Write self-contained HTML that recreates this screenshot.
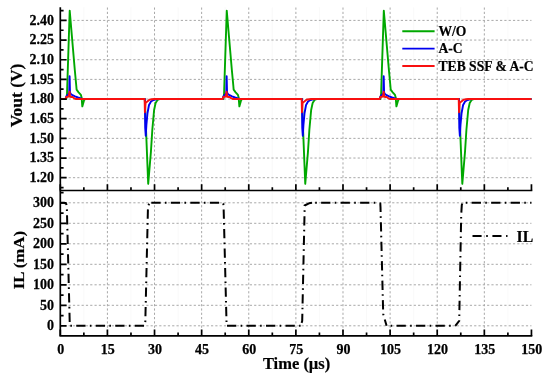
<!DOCTYPE html>
<html><head><meta charset="utf-8"><style>
html,body{margin:0;padding:0;background:#fff;width:550px;height:379px;overflow:hidden}
svg{display:block}
</style></head><body>
<svg width="550" height="379" viewBox="0 0 550 379">
<rect width="550" height="379" fill="#fff"/>
<line x1="83.86" y1="7.29" x2="83.86" y2="190.81" stroke="#f7f7f7" stroke-width="0.8"/>
<line x1="83.86" y1="192.55" x2="83.86" y2="336.05" stroke="#f7f7f7" stroke-width="0.8"/>
<line x1="130.97" y1="7.29" x2="130.97" y2="190.81" stroke="#f7f7f7" stroke-width="0.8"/>
<line x1="130.97" y1="192.55" x2="130.97" y2="336.05" stroke="#f7f7f7" stroke-width="0.8"/>
<line x1="178.09" y1="7.29" x2="178.09" y2="190.81" stroke="#f7f7f7" stroke-width="0.8"/>
<line x1="178.09" y1="192.55" x2="178.09" y2="336.05" stroke="#f7f7f7" stroke-width="0.8"/>
<line x1="225.20" y1="7.29" x2="225.20" y2="190.81" stroke="#f7f7f7" stroke-width="0.8"/>
<line x1="225.20" y1="192.55" x2="225.20" y2="336.05" stroke="#f7f7f7" stroke-width="0.8"/>
<line x1="272.32" y1="7.29" x2="272.32" y2="190.81" stroke="#f7f7f7" stroke-width="0.8"/>
<line x1="272.32" y1="192.55" x2="272.32" y2="336.05" stroke="#f7f7f7" stroke-width="0.8"/>
<line x1="319.43" y1="7.29" x2="319.43" y2="190.81" stroke="#f7f7f7" stroke-width="0.8"/>
<line x1="319.43" y1="192.55" x2="319.43" y2="336.05" stroke="#f7f7f7" stroke-width="0.8"/>
<line x1="366.55" y1="7.29" x2="366.55" y2="190.81" stroke="#f7f7f7" stroke-width="0.8"/>
<line x1="366.55" y1="192.55" x2="366.55" y2="336.05" stroke="#f7f7f7" stroke-width="0.8"/>
<line x1="413.66" y1="7.29" x2="413.66" y2="190.81" stroke="#f7f7f7" stroke-width="0.8"/>
<line x1="413.66" y1="192.55" x2="413.66" y2="336.05" stroke="#f7f7f7" stroke-width="0.8"/>
<line x1="460.78" y1="7.29" x2="460.78" y2="190.81" stroke="#f7f7f7" stroke-width="0.8"/>
<line x1="460.78" y1="192.55" x2="460.78" y2="336.05" stroke="#f7f7f7" stroke-width="0.8"/>
<line x1="507.89" y1="7.29" x2="507.89" y2="190.81" stroke="#f7f7f7" stroke-width="0.8"/>
<line x1="507.89" y1="192.55" x2="507.89" y2="336.05" stroke="#f7f7f7" stroke-width="0.8"/>
<line x1="107.41" y1="190.81" x2="107.41" y2="7.29" stroke="#a8a8a8" stroke-width="1" stroke-dasharray="2.2 2.1" stroke-dashoffset="3.8"/>
<line x1="107.41" y1="336.05" x2="107.41" y2="192.55" stroke="#a8a8a8" stroke-width="1" stroke-dasharray="2.2 2.1" stroke-dashoffset="0.35"/>
<line x1="154.53" y1="190.81" x2="154.53" y2="7.29" stroke="#a8a8a8" stroke-width="1" stroke-dasharray="2.2 2.1" stroke-dashoffset="3.8"/>
<line x1="154.53" y1="336.05" x2="154.53" y2="192.55" stroke="#a8a8a8" stroke-width="1" stroke-dasharray="2.2 2.1" stroke-dashoffset="0.35"/>
<line x1="201.64" y1="190.81" x2="201.64" y2="7.29" stroke="#a8a8a8" stroke-width="1" stroke-dasharray="2.2 2.1" stroke-dashoffset="3.8"/>
<line x1="201.64" y1="336.05" x2="201.64" y2="192.55" stroke="#a8a8a8" stroke-width="1" stroke-dasharray="2.2 2.1" stroke-dashoffset="0.35"/>
<line x1="248.76" y1="190.81" x2="248.76" y2="7.29" stroke="#a8a8a8" stroke-width="1" stroke-dasharray="2.2 2.1" stroke-dashoffset="3.8"/>
<line x1="248.76" y1="336.05" x2="248.76" y2="192.55" stroke="#a8a8a8" stroke-width="1" stroke-dasharray="2.2 2.1" stroke-dashoffset="0.35"/>
<line x1="295.88" y1="190.81" x2="295.88" y2="7.29" stroke="#a8a8a8" stroke-width="1" stroke-dasharray="2.2 2.1" stroke-dashoffset="3.8"/>
<line x1="295.88" y1="336.05" x2="295.88" y2="192.55" stroke="#a8a8a8" stroke-width="1" stroke-dasharray="2.2 2.1" stroke-dashoffset="0.35"/>
<line x1="342.99" y1="190.81" x2="342.99" y2="7.29" stroke="#a8a8a8" stroke-width="1" stroke-dasharray="2.2 2.1" stroke-dashoffset="3.8"/>
<line x1="342.99" y1="336.05" x2="342.99" y2="192.55" stroke="#a8a8a8" stroke-width="1" stroke-dasharray="2.2 2.1" stroke-dashoffset="0.35"/>
<line x1="390.11" y1="190.81" x2="390.11" y2="7.29" stroke="#a8a8a8" stroke-width="1" stroke-dasharray="2.2 2.1" stroke-dashoffset="3.8"/>
<line x1="390.11" y1="336.05" x2="390.11" y2="192.55" stroke="#a8a8a8" stroke-width="1" stroke-dasharray="2.2 2.1" stroke-dashoffset="0.35"/>
<line x1="437.22" y1="190.81" x2="437.22" y2="7.29" stroke="#a8a8a8" stroke-width="1" stroke-dasharray="2.2 2.1" stroke-dashoffset="3.8"/>
<line x1="437.22" y1="336.05" x2="437.22" y2="192.55" stroke="#a8a8a8" stroke-width="1" stroke-dasharray="2.2 2.1" stroke-dashoffset="0.35"/>
<line x1="484.34" y1="190.81" x2="484.34" y2="7.29" stroke="#a8a8a8" stroke-width="1" stroke-dasharray="2.2 2.1" stroke-dashoffset="3.8"/>
<line x1="484.34" y1="336.05" x2="484.34" y2="192.55" stroke="#a8a8a8" stroke-width="1" stroke-dasharray="2.2 2.1" stroke-dashoffset="0.35"/>
<line x1="60.30" y1="177.70" x2="531.45" y2="177.70" stroke="#a8a8a8" stroke-width="1" stroke-dasharray="2.2 2.114" stroke-dashoffset="0.3"/>
<line x1="60.30" y1="158.04" x2="531.45" y2="158.04" stroke="#a8a8a8" stroke-width="1" stroke-dasharray="2.2 2.114" stroke-dashoffset="0.3"/>
<line x1="60.30" y1="138.37" x2="531.45" y2="138.37" stroke="#a8a8a8" stroke-width="1" stroke-dasharray="2.2 2.114" stroke-dashoffset="0.3"/>
<line x1="60.30" y1="118.71" x2="531.45" y2="118.71" stroke="#a8a8a8" stroke-width="1" stroke-dasharray="2.2 2.114" stroke-dashoffset="0.3"/>
<line x1="60.30" y1="99.05" x2="531.45" y2="99.05" stroke="#a8a8a8" stroke-width="1" stroke-dasharray="2.2 2.114" stroke-dashoffset="0.3"/>
<line x1="60.30" y1="79.39" x2="531.45" y2="79.39" stroke="#a8a8a8" stroke-width="1" stroke-dasharray="2.2 2.114" stroke-dashoffset="0.3"/>
<line x1="60.30" y1="59.73" x2="531.45" y2="59.73" stroke="#a8a8a8" stroke-width="1" stroke-dasharray="2.2 2.114" stroke-dashoffset="0.3"/>
<line x1="60.30" y1="40.06" x2="531.45" y2="40.06" stroke="#a8a8a8" stroke-width="1" stroke-dasharray="2.2 2.114" stroke-dashoffset="0.3"/>
<line x1="60.30" y1="20.40" x2="531.45" y2="20.40" stroke="#a8a8a8" stroke-width="1" stroke-dasharray="2.2 2.114" stroke-dashoffset="0.3"/>
<line x1="60.30" y1="325.80" x2="531.45" y2="325.80" stroke="#a8a8a8" stroke-width="1" stroke-dasharray="2.2 2.114" stroke-dashoffset="0.3"/>
<line x1="60.30" y1="305.30" x2="531.45" y2="305.30" stroke="#a8a8a8" stroke-width="1" stroke-dasharray="2.2 2.114" stroke-dashoffset="0.3"/>
<line x1="60.30" y1="284.80" x2="531.45" y2="284.80" stroke="#a8a8a8" stroke-width="1" stroke-dasharray="2.2 2.114" stroke-dashoffset="0.3"/>
<line x1="60.30" y1="264.30" x2="531.45" y2="264.30" stroke="#a8a8a8" stroke-width="1" stroke-dasharray="2.2 2.114" stroke-dashoffset="0.3"/>
<line x1="60.30" y1="243.80" x2="531.45" y2="243.80" stroke="#a8a8a8" stroke-width="1" stroke-dasharray="2.2 2.114" stroke-dashoffset="0.3"/>
<line x1="60.30" y1="223.30" x2="531.45" y2="223.30" stroke="#a8a8a8" stroke-width="1" stroke-dasharray="2.2 2.114" stroke-dashoffset="0.3"/>
<line x1="60.30" y1="202.80" x2="531.45" y2="202.80" stroke="#a8a8a8" stroke-width="1" stroke-dasharray="2.2 2.114" stroke-dashoffset="0.3"/>
<polyline points="60.30,99.05 66.30,99.05 67.00,94.00 69.70,10.70 74.80,70.00 76.30,86.00 76.60,89.70 78.60,92.30 80.90,94.90 81.60,97.50 82.30,106.40 84.20,99.70 85.50,99.05 144.80,99.05 148.20,183.80 150.90,152.00 152.30,130.00 154.10,110.00 155.60,103.00 157.50,100.00 159.50,99.05 223.35,99.05 224.05,94.00 226.75,10.70 231.85,70.00 233.35,86.00 233.65,89.70 235.65,92.30 237.95,94.90 238.65,97.50 239.35,106.40 241.25,99.70 242.55,99.05 301.85,99.05 305.25,183.80 307.95,152.00 309.35,130.00 311.15,110.00 312.65,103.00 314.55,100.00 316.55,99.05 380.40,99.05 381.10,94.00 383.80,10.70 388.90,70.00 390.40,86.00 390.70,89.70 392.70,92.30 395.00,94.90 395.70,97.50 396.40,106.40 398.30,99.70 399.60,99.05 458.90,99.05 462.30,183.80 465.00,152.00 466.40,130.00 468.20,110.00 469.70,103.00 471.60,100.00 473.60,99.05 531.45,99.05" fill="none" stroke="#00a800" stroke-width="1.9" stroke-linejoin="round"/>
<polyline points="60.30,99.05 65.50,99.05 66.30,96.50 67.50,95.00 69.20,93.50 69.60,76.20 70.00,92.50 70.80,94.00 72.50,95.20 75.00,96.40 78.00,97.50 81.00,98.40 83.50,99.05 144.90,99.05 145.20,128.00 145.75,135.80 146.40,125.00 147.50,113.00 149.00,105.00 151.00,101.50 153.50,100.00 156.00,99.30 158.00,99.05 222.55,99.05 223.35,96.50 224.55,95.00 226.25,93.50 226.65,76.20 227.05,92.50 227.85,94.00 229.55,95.20 232.05,96.40 235.05,97.50 238.05,98.40 240.55,99.05 301.95,99.05 302.25,128.00 302.80,135.80 303.45,125.00 304.55,113.00 306.05,105.00 308.05,101.50 310.55,100.00 313.05,99.30 315.05,99.05 379.60,99.05 380.40,96.50 381.60,95.00 383.30,93.50 383.70,76.20 384.10,92.50 384.90,94.00 386.60,95.20 389.10,96.40 392.10,97.50 395.10,98.40 397.60,99.05 459.00,99.05 459.30,128.00 459.85,135.80 460.50,125.00 461.60,113.00 463.10,105.00 465.10,101.50 467.60,100.00 470.10,99.30 472.10,99.05 531.45,99.05" fill="none" stroke="#0000f0" stroke-width="1.9" stroke-linejoin="round"/>
<polyline points="60.30,99.05 65.40,99.05 66.30,97.00 68.80,96.50 69.60,91.60 70.10,96.80 71.50,97.00 72.60,97.00 74.40,98.40 76.00,99.05 144.60,99.05 144.90,112.20 145.60,103.00 146.70,101.90 149.40,99.70 152.00,99.20 154.00,99.05 222.45,99.05 223.35,97.00 225.85,96.50 226.65,91.60 227.15,96.80 228.55,97.00 229.65,97.00 231.45,98.40 233.05,99.05 301.65,99.05 301.95,112.20 302.65,103.00 303.75,101.90 306.45,99.70 309.05,99.20 311.05,99.05 379.50,99.05 380.40,97.00 382.90,96.50 383.70,91.60 384.20,96.80 385.60,97.00 386.70,97.00 388.50,98.40 390.10,99.05 458.70,99.05 459.00,112.20 459.70,103.00 460.80,101.90 463.50,99.70 466.10,99.20 468.10,99.05 531.45,99.05" fill="none" stroke="#f81010" stroke-width="1.9" stroke-linejoin="round"/>
<path d="M60.50,202.80 L64.50,202.80 L66.30,204.00 L66.80,206.00 L69.80,325.80 L144.60,325.80 L145.30,322.00 L147.90,210.00 L148.30,205.50 L149.30,203.50 L151.00,202.80" fill="none" stroke="#000" stroke-width="2" stroke-dasharray="9.3 4.3 1.6 4.3" stroke-dashoffset="2.00" stroke-linejoin="round"/>
<path d="M151.00,202.80 L221.50,202.80 L223.30,203.60 L223.60,207.00 L226.60,325.80" fill="none" stroke="#000" stroke-width="2" stroke-dasharray="9.3 4.3 1.6 4.3" stroke-dashoffset="19.19" stroke-linejoin="round"/>
<path d="M226.60,325.80 L300.60,325.80" fill="none" stroke="#000" stroke-width="2" stroke-dasharray="9.3 4.3 1.6 4.3" stroke-dashoffset="19.10" stroke-linejoin="round"/>
<path d="M300.60,325.80 L302.20,321.00 L304.50,215.00 L304.60,205.50 L309.00,203.30 L312.00,202.80" fill="none" stroke="#000" stroke-width="2" stroke-dasharray="9.3 4.3 1.6 4.3" stroke-dashoffset="16.39" stroke-linejoin="round"/>
<path d="M312.00,202.80 L378.50,202.80 L380.30,203.50 L380.50,207.00 L383.20,314.00 L386.60,325.80" fill="none" stroke="#000" stroke-width="2" stroke-dasharray="9.3 4.3 1.6 4.3" stroke-dashoffset="10.40" stroke-linejoin="round"/>
<path d="M386.60,325.80 L455.30,325.80" fill="none" stroke="#000" stroke-width="2" stroke-dasharray="9.3 4.3 1.6 4.3" stroke-dashoffset="9.58" stroke-linejoin="round"/>
<path d="M455.30,325.80 L459.20,320.90 L461.20,215.00 L461.80,205.00 L462.50,202.80" fill="none" stroke="#000" stroke-width="2" stroke-dasharray="9.3 4.3 1.6 4.3" stroke-dashoffset="2.46" stroke-linejoin="round"/>
<path d="M462.50,202.80 L531.45,202.80" fill="none" stroke="#000" stroke-width="2" stroke-dasharray="9.3 4.3 1.6 4.3" stroke-dashoffset="10.35" stroke-linejoin="round"/>
<path d="M60.30,7.29 V190.81 M59.45,190.51 H532.30" fill="none" stroke="#000" stroke-width="1.7"/>
<path d="M60.30,190.81 V336.05 M59.45,335.90 H532.30" fill="none" stroke="#000" stroke-width="1.7"/>
<path d="M60.30,190.51 v-6.3 M60.30,335.90 v-6.3 M107.41,190.51 v-6.3 M107.41,335.90 v-6.3 M154.53,190.51 v-6.3 M154.53,335.90 v-6.3 M201.64,190.51 v-6.3 M201.64,335.90 v-6.3 M248.76,190.51 v-6.3 M248.76,335.90 v-6.3 M295.88,190.51 v-6.3 M295.88,335.90 v-6.3 M342.99,190.51 v-6.3 M342.99,335.90 v-6.3 M390.11,190.51 v-6.3 M390.11,335.90 v-6.3 M437.22,190.51 v-6.3 M437.22,335.90 v-6.3 M484.34,190.51 v-6.3 M484.34,335.90 v-6.3 M531.45,190.51 v-6.3 M531.45,335.90 v-6.3 M83.86,190.51 v-3.3 M83.86,335.90 v-3.3 M130.97,190.51 v-3.3 M130.97,335.90 v-3.3 M178.09,190.51 v-3.3 M178.09,335.90 v-3.3 M225.20,190.51 v-3.3 M225.20,335.90 v-3.3 M272.32,190.51 v-3.3 M272.32,335.90 v-3.3 M319.43,190.51 v-3.3 M319.43,335.90 v-3.3 M366.55,190.51 v-3.3 M366.55,335.90 v-3.3 M413.66,190.51 v-3.3 M413.66,335.90 v-3.3 M460.78,190.51 v-3.3 M460.78,335.90 v-3.3 M507.89,190.51 v-3.3 M507.89,335.90 v-3.3 M60.30,177.70 h6.3 M60.30,158.04 h6.3 M60.30,138.37 h6.3 M60.30,118.71 h6.3 M60.30,99.05 h6.3 M60.30,79.39 h6.3 M60.30,59.73 h6.3 M60.30,40.06 h6.3 M60.30,20.40 h6.3 M60.30,187.53 h3.3 M60.30,167.87 h3.3 M60.30,148.21 h3.3 M60.30,128.54 h3.3 M60.30,108.88 h3.3 M60.30,89.22 h3.3 M60.30,69.56 h3.3 M60.30,49.89 h3.3 M60.30,30.23 h3.3 M60.30,10.57 h3.3 M60.30,325.80 h6.3 M60.30,305.30 h6.3 M60.30,284.80 h6.3 M60.30,264.30 h6.3 M60.30,243.80 h6.3 M60.30,223.30 h6.3 M60.30,202.80 h6.3 M60.30,315.55 h3.3 M60.30,295.05 h3.3 M60.30,274.55 h3.3 M60.30,254.05 h3.3 M60.30,233.55 h3.3 M60.30,213.05 h3.3 M60.30,192.55 h3.3" fill="none" stroke="#000" stroke-width="1.7"/>
<g font-family="Liberation Serif, serif" font-weight="bold" font-size="14.0" fill="#000" stroke="#000" stroke-width="0.25">
<text transform="translate(54.0,181.90) scale(1,1.06)" text-anchor="end">1.20</text>
<text transform="translate(54.0,162.24) scale(1,1.06)" text-anchor="end">1.35</text>
<text transform="translate(54.0,142.57) scale(1,1.06)" text-anchor="end">1.50</text>
<text transform="translate(54.0,122.91) scale(1,1.06)" text-anchor="end">1.65</text>
<text transform="translate(54.0,103.25) scale(1,1.06)" text-anchor="end">1.80</text>
<text transform="translate(54.0,83.59) scale(1,1.06)" text-anchor="end">1.95</text>
<text transform="translate(54.0,63.93) scale(1,1.06)" text-anchor="end">2.10</text>
<text transform="translate(54.0,44.26) scale(1,1.06)" text-anchor="end">2.25</text>
<text transform="translate(54.0,24.60) scale(1,1.06)" text-anchor="end">2.40</text>
<text transform="translate(54.0,330.00) scale(1,1.06)" text-anchor="end">0</text>
<text transform="translate(54.0,309.50) scale(1,1.06)" text-anchor="end">50</text>
<text transform="translate(54.0,289.00) scale(1,1.06)" text-anchor="end">100</text>
<text transform="translate(54.0,268.50) scale(1,1.06)" text-anchor="end">150</text>
<text transform="translate(54.0,248.00) scale(1,1.06)" text-anchor="end">200</text>
<text transform="translate(54.0,227.50) scale(1,1.06)" text-anchor="end">250</text>
<text transform="translate(54.0,207.00) scale(1,1.06)" text-anchor="end">300</text>
<text transform="translate(60.70,353.7) scale(1,1.0)" text-anchor="middle">0</text>
<text transform="translate(107.81,353.7) scale(1,1.0)" text-anchor="middle">15</text>
<text transform="translate(154.93,353.7) scale(1,1.0)" text-anchor="middle">30</text>
<text transform="translate(202.04,353.7) scale(1,1.0)" text-anchor="middle">45</text>
<text transform="translate(249.16,353.7) scale(1,1.0)" text-anchor="middle">60</text>
<text transform="translate(296.27,353.7) scale(1,1.0)" text-anchor="middle">75</text>
<text transform="translate(343.39,353.7) scale(1,1.0)" text-anchor="middle">90</text>
<text transform="translate(390.50,353.7) scale(1,1.0)" text-anchor="middle">105</text>
<text transform="translate(437.62,353.7) scale(1,1.0)" text-anchor="middle">120</text>
<text transform="translate(484.74,353.7) scale(1,1.0)" text-anchor="middle">135</text>
<text transform="translate(531.85,353.7) scale(1,1.0)" text-anchor="middle">150</text>
</g>
<g font-family="Liberation Serif, serif" font-weight="bold" fill="#000" stroke="#000" stroke-width="0.2">
<text transform="translate(296.6,368.9) scale(1,1.05)" font-size="16.5" text-anchor="middle">Time (µs)</text>
<text transform="translate(22.3,95.5) scale(1,1.05) rotate(-90)" font-size="16.6" text-anchor="middle">Vout (V)</text>
<text transform="translate(23.9,260.1) scale(1,1.1) rotate(-90)" font-size="15.3" text-anchor="middle">IL (mA)</text>
<text x="438.5" y="35.9" font-size="13.6">W/O</text>
<text x="438.5" y="53.2" font-size="13.6">A-C</text>
<text x="438.5" y="70.7" font-size="13.6">TEB SSF &amp; A-C</text>
<text x="516.6" y="241.8" font-size="15.8">IL</text>
</g>
<line x1="402.3" y1="31.3" x2="434.6" y2="31.3" stroke="#00a800" stroke-width="1.9"/>
<line x1="402.3" y1="48.6" x2="434.6" y2="48.6" stroke="#0000f0" stroke-width="1.9"/>
<line x1="402.3" y1="66.0" x2="434.6" y2="66.0" stroke="#f81010" stroke-width="1.9"/>
<line x1="472.5" y1="236.1" x2="507.5" y2="236.1" stroke="#000" stroke-width="2" stroke-dasharray="9.1 4.6 1.6 4.6"/>
</svg>
</body></html>
